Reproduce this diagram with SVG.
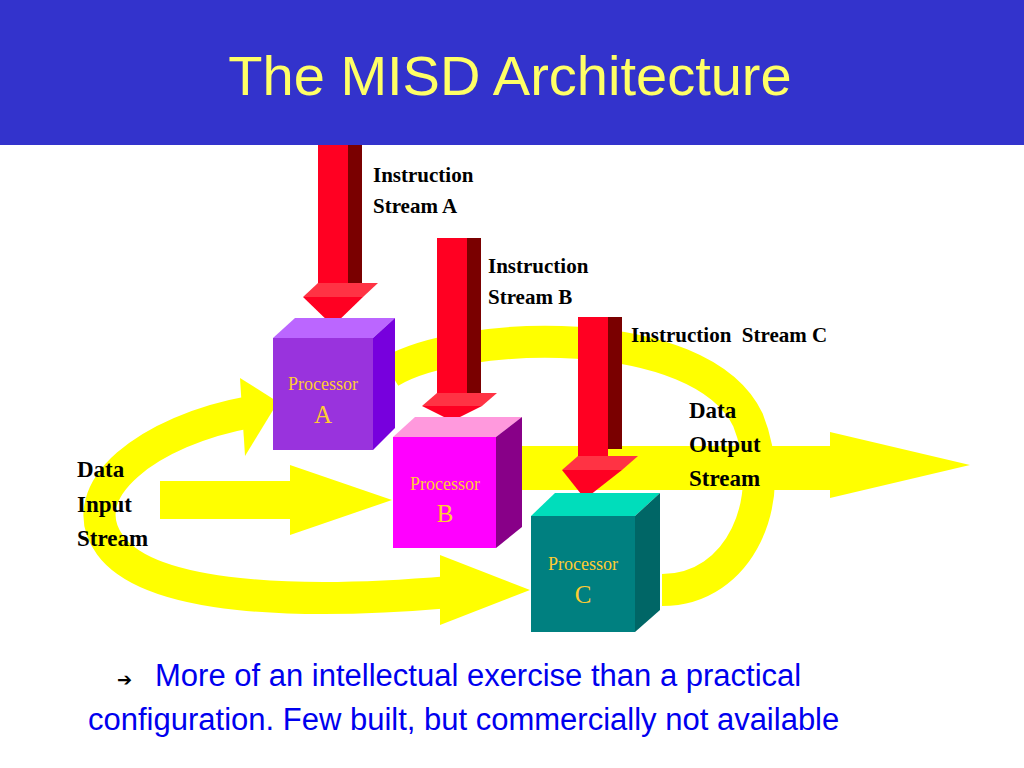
<svg xmlns="http://www.w3.org/2000/svg" width="1024" height="768" viewBox="0 0 1024 768">
<style>
.lbl{font-family:"Liberation Serif",serif;font-weight:bold;font-size:21px;fill:#000}
.big{font-size:23px}
.proc{font-family:"Liberation Serif",serif;font-size:18px;fill:#FFCC33;text-anchor:middle}
.let{font-family:"Liberation Serif",serif;font-size:25px;fill:#FFCC33;text-anchor:middle}
.band{fill:none;stroke:#FFFF00;stroke-width:32}
.yh{fill:#FFFF00}
.red{fill:#FF0022}
.dred{fill:#7A0000}
.lred{fill:#FF3344}
</style>
<rect width="1024" height="768" fill="#fff"/>
<rect width="1024" height="145" fill="#3333CC"/>
<text x="510" y="95" text-anchor="middle" font-family="Liberation Sans,sans-serif" font-size="56" fill="#FFFF66">The MISD Architecture</text>
<g id="connectors">
<path class="band" d="M390,372 C460,330 700,320 748,420 C780,500 740,590 662,590"/>
<rect class="yh" x="496" y="446" width="340" height="44"/>
<polygon class="yh" points="830,432 970,465 830,498"/>
<path class="band" d="M250,412 C150,430 70,490 110,545 C150,600 300,605 450,592"/>
<polygon class="yh" points="440,555 530,590 440,625"/>
<polygon class="yh" points="240,378 278,402 245,456"/>
<rect class="yh" x="160" y="481" width="135" height="38"/>
<polygon class="yh" points="290,465 392,500 290,535"/>
<rect class="red" x="318" y="145" width="30" height="152"/>
<rect class="dred" x="348" y="145" width="14" height="143"/>
<polygon class="lred" points="303,297 318,283 378,283 363,297"/>
<polygon class="red" points="303,297 363,297 333,326"/>
<rect class="red" x="437" y="238" width="30" height="168"/>
<rect class="dred" x="467" y="238" width="14" height="158"/>
<polygon class="lred" points="422,406 437,393 497,393 482,406"/>
<polygon class="red" points="422,406 482,406 452,421"/>
<rect class="red" x="578" y="317" width="30" height="142"/>
<rect class="dred" x="608" y="317" width="14" height="132"/>
<polygon class="lred" points="562,470 578,456 638,456 622,470"/>
<polygon class="red" points="562,470 622,470 585,499"/>
</g>
<g id="procA">
<polygon points="273,338 295,318 395,318 373,338" fill="#BB66FF"/>
<polygon points="373,338 395,318 395,428 373,450" fill="#7700DD"/>
<rect x="273" y="338" width="100" height="112" fill="#9933DD"/>
<text class="proc" x="323" y="390">Processor</text>
<text class="let" x="323" y="423">A</text>
</g>
<g id="procB">
<polygon points="393,437 415,417 522,417 496,437" fill="#FF99DD"/>
<polygon points="496,437 522,417 522,527 496,548" fill="#880088"/>
<rect x="393" y="437" width="103" height="111" fill="#FF00FF"/>
<text class="proc" x="445" y="490">Processor</text>
<text class="let" x="445" y="522">B</text>
</g>
<g id="procC">
<polygon points="531,516 555,493 660,493 635,516" fill="#00DDBB"/>
<polygon points="635,516 660,493 660,610 635,632" fill="#006666"/>
<rect x="531" y="516" width="104" height="116" fill="#008080"/>
<text class="proc" x="583" y="570">Processor</text>
<text class="let" x="583" y="603">C</text>
</g>
<g id="labels">
<text class="lbl" x="373" y="182">Instruction</text>
<text class="lbl" x="373" y="213">Stream A</text>
<text class="lbl" x="488" y="273">Instruction</text>
<text class="lbl" x="488" y="304">Stream B</text>
<text class="lbl" x="631" y="342" xml:space="preserve">Instruction  Stream C</text>
<text class="lbl big" x="689" y="418">Data</text>
<text class="lbl big" x="689" y="452">Output</text>
<text class="lbl big" x="689" y="486">Stream</text>
<text class="lbl big" x="77" y="477">Data</text>
<text class="lbl big" x="77" y="512">Input</text>
<text class="lbl big" x="77" y="546">Stream</text>
</g>
<text x="117" y="686" font-family="DejaVu Sans,sans-serif" font-size="18" font-weight="bold" fill="#000">➔</text>
<text x="155" y="686" font-family="Liberation Sans,sans-serif" font-size="31" fill="#0000EE">More of an intellectual exercise than a practical</text>
<text x="88" y="730" font-family="Liberation Sans,sans-serif" font-size="31" fill="#0000EE">configuration. Few built, but commercially not available</text>
</svg>
